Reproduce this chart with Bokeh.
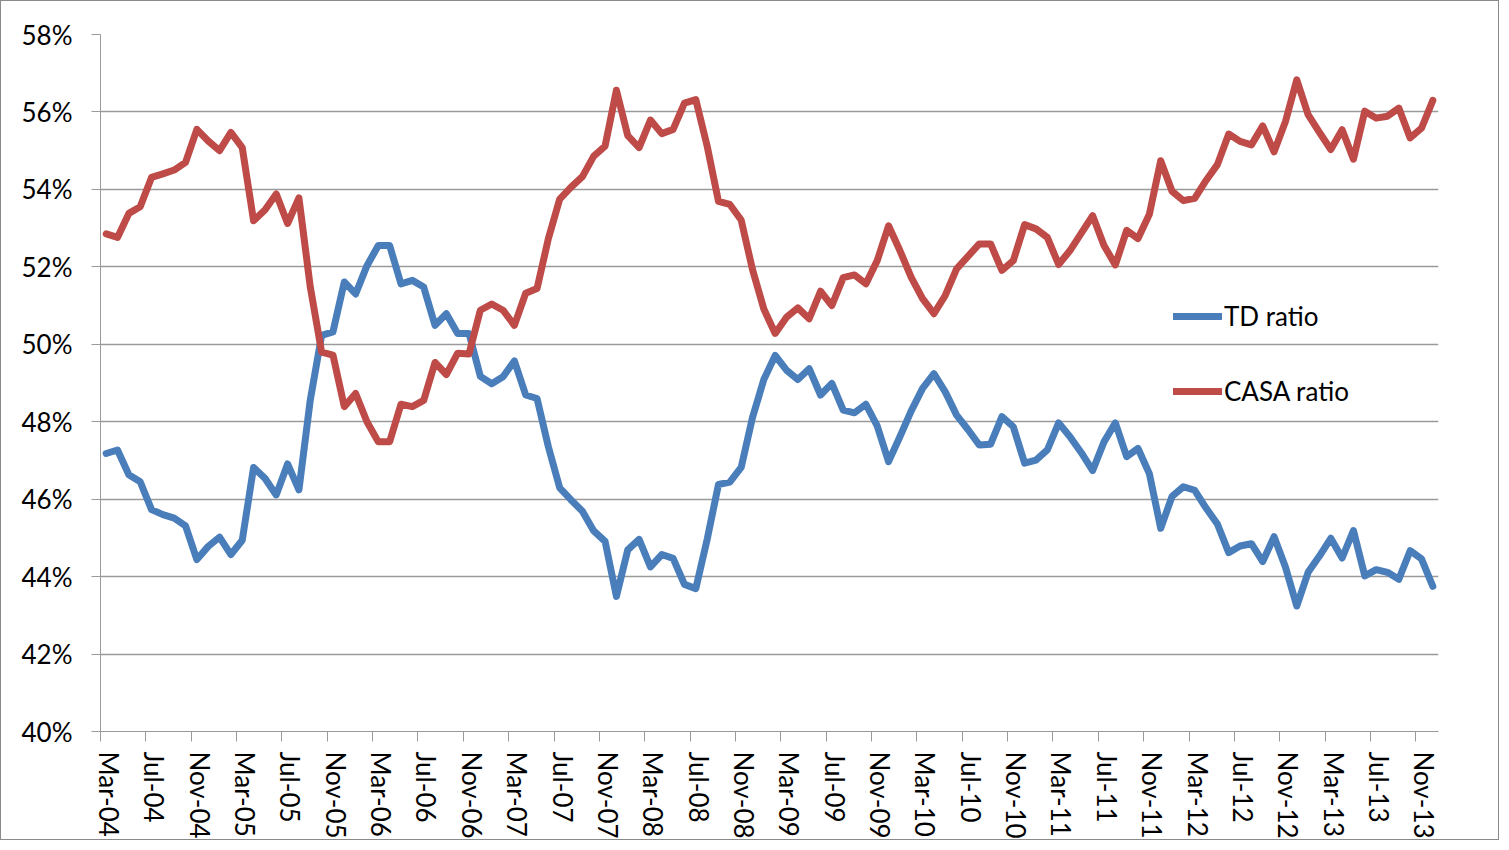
from bokeh.plotting import figure
from bokeh.models import FixedTicker, Legend, LegendItem, Range1d
from bokeh.embed import file_html
from bokeh.resources import INLINE

tick_labels = ["Mar-04", "Jul-04", "Nov-04", "Mar-05", "Jul-05", "Nov-05",
               "Mar-06", "Jul-06", "Nov-06", "Mar-07", "Jul-07", "Nov-07",
               "Mar-08", "Jul-08", "Nov-08", "Mar-09", "Jul-09", "Nov-09",
               "Mar-10", "Jul-10", "Nov-10", "Mar-11", "Jul-11", "Nov-11",
               "Mar-12", "Jul-12", "Nov-12", "Mar-13", "Jul-13", "Nov-13"]

td_ratio = [47.18, 47.27, 46.63, 46.45, 45.73, 45.60, 45.51, 45.31, 44.44, 44.78,
            45.02, 44.57, 44.94, 46.82, 46.54, 46.11, 46.91, 46.24, 48.56, 50.23,
            50.32, 51.61, 51.30, 52.03, 52.55, 52.55, 51.56, 51.65, 51.48, 50.49,
            50.79, 50.28, 50.28, 49.17, 48.98, 49.16, 49.57, 48.69, 48.60, 47.35,
            46.29, 45.98, 45.69, 45.18, 44.91, 43.49, 44.69, 44.96, 44.25, 44.57,
            44.47, 43.80, 43.69, 44.96, 46.38, 46.44, 46.82, 48.11, 49.09, 49.71,
            49.33, 49.09, 49.37, 48.69, 48.99, 48.30, 48.23, 48.45, 47.89, 46.97,
            47.61, 48.28, 48.86, 49.24, 48.77, 48.17, 47.80, 47.40, 47.42, 48.13,
            47.87, 46.93, 47.01, 47.27, 47.97, 47.61, 47.20, 46.74, 47.48, 47.97,
            47.10, 47.31, 46.66, 45.25, 46.07, 46.32, 46.23, 45.77, 45.36, 44.62,
            44.79, 44.85, 44.39, 45.03, 44.25, 43.24, 44.11, 44.53, 44.99, 44.48,
            45.19, 44.02, 44.18, 44.11, 43.93, 44.67, 44.46, 43.75]

casa_ratio = [52.85, 52.76, 53.38, 53.55, 54.31, 54.40, 54.50, 54.70, 55.55, 55.25,
              55.00, 55.47, 55.08, 53.19, 53.47, 53.88, 53.12, 53.78, 51.48, 49.80,
              49.72, 48.39, 48.73, 48.00, 47.48, 47.48, 48.45, 48.39, 48.55, 49.53,
              49.22, 49.77, 49.75, 50.88, 51.04, 50.88, 50.49, 51.32, 51.44, 52.73,
              53.75, 54.06, 54.33, 54.86, 55.12, 56.56, 55.39, 55.08, 55.79, 55.44,
              55.55, 56.23, 56.32, 55.12, 53.69, 53.61, 53.21, 51.93, 50.91, 50.28,
              50.70, 50.94, 50.66, 51.37, 51.00, 51.72, 51.79, 51.56, 52.16, 53.06,
              52.42, 51.73, 51.18, 50.79, 51.26, 51.95, 52.27, 52.59, 52.59, 51.91,
              52.16, 53.09, 52.98, 52.76, 52.06, 52.42, 52.87, 53.32, 52.55, 52.05,
              52.94, 52.73, 53.36, 54.74, 53.95, 53.71, 53.77, 54.23, 54.64, 55.43,
              55.24, 55.15, 55.64, 54.97, 55.75, 56.83, 55.93, 55.47, 55.03, 55.54,
              54.78, 56.02, 55.84, 55.89, 56.10, 55.33, 55.58, 56.30]

y_ticks = [40, 42, 44, 46, 48, 50, 52, 54, 56, 58]

FONT = "Lato"
GRAY = "#9a9a9a"
n = len(td_ratio)
x = [i + 0.5 for i in range(n)]
x_ticks = [4 * k for k in range(len(tick_labels))]
label_ticks = [t + 0.75 for t in x_ticks]

p = figure(width=1499, height=840, output_backend="svg", toolbar_location=None,
           x_range=Range1d(0, n), y_range=Range1d(40, 58),
           min_border_left=99, min_border_top=33, min_border_right=62,
           min_border_bottom=109, background_fill_color="white",
           border_fill_color="white")
p.styles = {"border": "1px solid #8a8a8a"}
p.outline_line_color = None

# y axis
p.yaxis.ticker = FixedTicker(ticks=y_ticks)
p.yaxis.major_label_overrides = {t: f"{t}%" for t in y_ticks}
p.yaxis.major_tick_out = 9
p.yaxis.major_tick_in = 0
p.yaxis.minor_tick_line_color = None
p.yaxis.axis_line_color = GRAY
p.yaxis.major_tick_line_color = GRAY
p.yaxis.major_label_standoff = 19
p.yaxis.major_label_text_font = FONT
p.yaxis.major_label_text_font_size = "26px"
p.yaxis.major_label_text_color = "black"

# x axis: labels at major ticks (hidden marks), tick marks at month boundaries (minor)
p.xaxis.ticker = FixedTicker(ticks=label_ticks, minor_ticks=x_ticks)
p.xaxis.major_label_overrides = {t: lab for t, lab in zip(label_ticks, tick_labels)}
p.xaxis.major_tick_line_color = None
p.xaxis.major_tick_out = 10
p.xaxis.major_tick_in = 0
p.xaxis.minor_tick_line_color = GRAY
p.xaxis.minor_tick_out = 10
p.xaxis.minor_tick_in = 0
p.xaxis.axis_line_color = GRAY
p.xaxis.major_label_orientation = "vertical"
p.xaxis.major_label_standoff = 10
p.xaxis.major_label_text_font = FONT
p.xaxis.major_label_text_font_size = "26px"
p.xaxis.major_label_text_color = "black"

p.xgrid.grid_line_color = None
p.ygrid.ticker = FixedTicker(ticks=y_ticks)
p.ygrid.grid_line_color = GRAY
p.ygrid.grid_line_width = 1.3

r_td = p.line(x, td_ratio, line_color="#4A7EBB", line_width=7,
              line_join="round", line_cap="round")
r_casa = p.line(x, casa_ratio, line_color="#BE4B48", line_width=7,
                line_join="round", line_cap="round")

legend = Legend(items=[LegendItem(label="TD ratio", renderers=[r_td]),
                       LegendItem(label="CASA ratio", renderers=[r_casa])],
                location=(1073, 324), glyph_width=49, glyph_height=30,
                label_standoff=2, spacing=43, padding=0, margin=0,
                border_line_color=None, background_fill_alpha=0,
                label_text_font=FONT, label_text_font_size="26px",
                label_text_color="black")
p.add_layout(legend)

open("out.html", "w").write(file_html(p, INLINE))
